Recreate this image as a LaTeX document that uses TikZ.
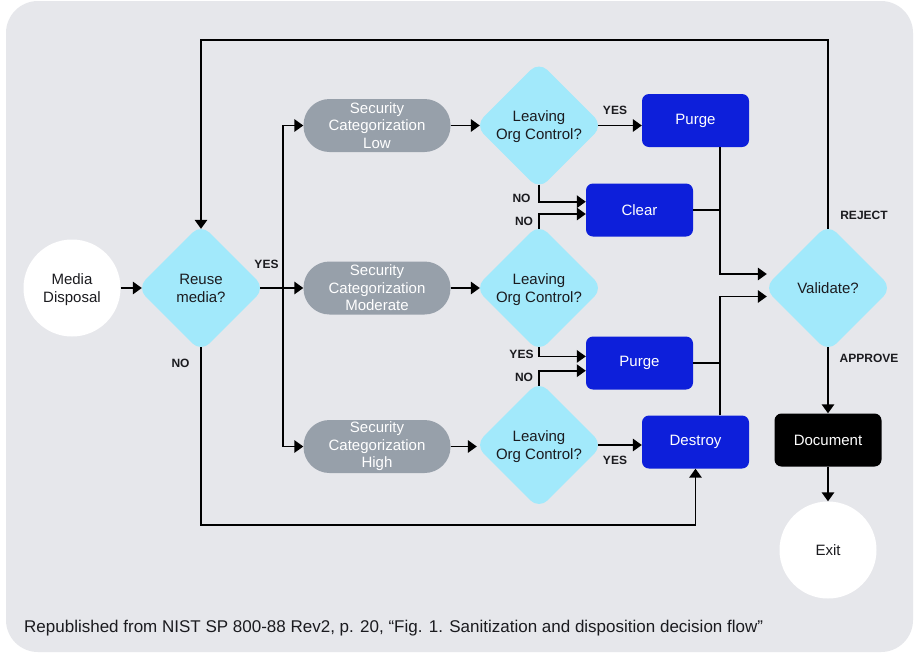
\documentclass[tikz,border=0pt]{standalone}
\usepackage{fontspec}
\setmainfont{Liberation Sans}
\usetikzlibrary{shapes.geometric,arrows.meta,calc}
\definecolor{bgc}{HTML}{E6E7EB}
\definecolor{cyanc}{HTML}{A2E9FB}
\definecolor{grayc}{HTML}{97A0AA}
\definecolor{bluec}{HTML}{0D1FDA}
\definecolor{txt}{HTML}{1B1B1F}
\begin{document}
\begin{tikzpicture}[x=1pt,y=-1pt,
  every node/.style={text=txt},
  dia/.style={diamond, aspect=1, fill=cyanc, minimum width=128pt, minimum height=128pt, inner sep=0pt, rounded corners=12pt, align=center, text depth=0pt, font=\fontsize{15}{18}\selectfont},
  pill/.style={rectangle, rounded corners=26pt, minimum width=147pt, minimum height=53pt, inner sep=0pt, fill=grayc, text=white, align=center, font=\fontsize{15}{17.5}\selectfont},
  box/.style={rectangle, rounded corners=7pt, minimum width=107pt, minimum height=53pt, inner sep=0pt, fill=bluec, text=white, font=\fontsize{15}{17.5}\selectfont},
  circ/.style={circle, fill=white, minimum size=97pt, inner sep=0pt, align=center, text depth=0pt, font=\fontsize{15}{18}\selectfont},
  lab/.style={font=\bfseries\fontsize{12}{14}\selectfont},
  ln/.style={line width=1.6pt, draw=black},
  arr/.style={ln, -{Triangle[length=9pt,width=12.5pt]}},
  sd/.style={shorten <=-5pt},
  ed/.style={shorten >=-5pt}
]
\useasboundingbox (0,0) rectangle (922,654);
\fill[white] (0,0) rectangle (922,654);
\fill[bgc, rounded corners=32pt] (6,1) rectangle (913,652);

% nodes
\node[circ] (md) at (72,288) {Media\\Disposal};
\node[dia] (reuse) at (201,288) {Reuse\\media?};
\node[pill] (secl) at (377,125.5) {Security\\Categorization\\Low};
\node[pill] (secm) at (377,288) {Security\\Categorization\\Moderate};
\node[pill] (sech) at (377,446.5) {Security\\Categorization\\High};
\node[dia] (lt) at (539,125.5) {Leaving\\Org Control?};
\node[dia] (lm) at (539,288) {Leaving\\Org Control?};
\node[dia] (lb) at (539,445) {Leaving\\Org Control?};
\node[box] (pt) at (695.5,120.5) {Purge};
\node[box] (cl) at (639.5,210) {Clear};
\node[box] (pm) at (639.5,363) {Purge};
\node[box] (de) at (695.5,442) {Destroy};
\node[dia] (val) at (828,288) {Validate?};
\node[box, fill=black] (doc) at (828,440) {Document};
\node[circ] (exit) at (828,550) {Exit};

% helper coordinates
\coordinate (j1) at (283,288);
\coordinate (top) at (0,40);
\coordinate (bot) at (0,525);
\coordinate (bus) at (720,0);
\coordinate (va) at ($(val.west)+(3,-14)$);
\coordinate (vb) at ($(val.west)+(3,8.5)$);

% connectors
\draw[arr, ed] (md) -- (reuse.west);
\draw[arr, sd] (reuse.east) -- (secm.west);
\draw[arr] (j1) |- (secl.west);
\draw[arr] (j1) |- (sech.west);
\draw[arr, ed] (secl.east) -- (lt.west);
\draw[arr, ed] (secm.east) -- (lm.west);
\draw[arr, shorten >=-2pt] (sech.east) -- (sech.east -| lb.west);
\draw[arr, sd] (lt.east) -- (lt.east -| pt.west);
\draw[arr, sd] (lt.south) |- ($(cl.west)+(0,-8.3)$);
\draw[arr, sd] (lm.north) |- ($(cl.west)+(0,4)$);
\draw[arr, sd] (lm.south) |- ($(pm.west)+(0,-6.6)$);
\draw[arr, sd] (lb.north) |- ($(pm.west)+(0,7.7)$);
\draw[arr, sd] (lb.east) -- (lb.east -| de.west);
\draw[arr] (pt.south -| bus) |- (va);
\draw[ln] (cl.east) -- (cl.east -| bus);
\draw[arr] (de.north -| bus) |- (vb);
\draw[ln] (pm.east) -- (pm.east -| bus);
\draw[arr, sd, ed] (val.north) -- (val.north |- top) -| (reuse.north);
\draw[arr, sd] (reuse.south) -- (reuse.south |- bot) -| (de.south);
\draw[arr, sd] (val.south) -- (doc.north);
\draw[arr] (doc.south) -- (exit.north);

% labels
\node[lab] (l1) at (266.5,264.5) {YES};
\node[lab] (l2) at (180.5,363.5) {NO};
\node[lab] (l3) at (615,110.5) {YES};
\node[lab] (l4) at (521.5,198) {NO};
\node[lab] (l5) at (524,221) {NO};
\node[lab] (l6) at (521.5,354.5) {YES};
\node[lab] (l7) at (524,377) {NO};
\node[lab] (l8) at (615,460) {YES};
\node[lab] (l9) at (864,215) {REJECT};
\node[lab] (l10) at (869,358) {APPROVE};

\node[anchor=west, font=\fontsize{17}{20}\selectfont, inner sep=0pt] (cap) at (24,628) {Republished from NIST SP 800-88 Rev2, p. 20, “Fig. 1. Sanitization and disposition decision flow”};
\end{tikzpicture}
\end{document}
